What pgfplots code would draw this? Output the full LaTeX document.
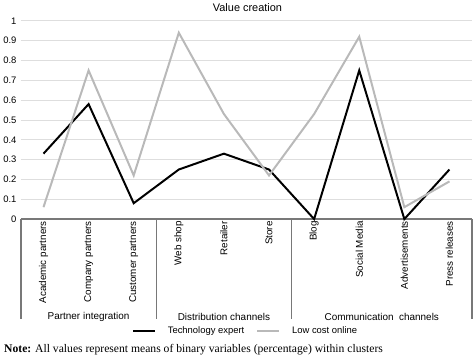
\documentclass[border=0pt]{standalone}
\usepackage{pgfplots}
\pgfplotsset{compat=1.18}
\usepackage{fontspec}
\setmainfont{Liberation Sans}
\newfontfamily\notefont{Liberation Serif}
\definecolor{lowcost}{RGB}{185,185,185}
\definecolor{gridc}{RGB}{222,222,222}
\definecolor{sepc}{RGB}{120,120,120}
\begin{document}
\begin{tikzpicture}[x=1pt,y=1pt]
\path (0,0) rectangle (474,363);
\begin{axis}[
  at={(18pt,142.5pt)}, anchor=south west,
  scale only axis, width=454pt, height=199.5pt,
  xmin=0, xmax=10, ymin=0, ymax=1,
  axis x line*=bottom, axis y line*=left,
  y axis line style={draw=none},
  x axis line style={draw=sepc, line width=1.2pt, -},
  xtick={0.5,1.5,...,9.5},
  xticklabels={Academic partners,Company partners,Customer partners,Web shop,Retailer,Store,Blog,Social Media,Advertisements,Press releases},
  xticklabel style={rotate=90, anchor=east, font=\fontsize{9.9}{11}\selectfont, inner sep=2pt},
  major tick length=0pt,
  ytick={0,0.1,...,1.01},
  ymajorgrids, grid style={draw=gridc, line width=0.8pt},
  yticklabel={\pgfmathprintnumber[fixed,precision=1]{\tick}},
  yticklabel style={font=\fontsize{9.5}{11}\selectfont, xshift=-1pt},
  /pgf/number format/assume math mode=true,
  clip=false,
  legend columns=2,
  legend style={at={(0.498,-0.564)}, anchor=center, draw=none, fill=none,
    font=\fontsize{9.5}{11}\selectfont, column sep=10pt},
  legend image code/.code={\draw[#1] (0pt,0pt) -- (22pt,0pt);},
]
\addplot[black, line width=2pt] coordinates {
(0.5,0.33) (1.5,0.58) (2.5,0.08) (3.5,0.25) (4.5,0.33) (5.5,0.25) (6.5,0) (7.5,0.75) (8.5,0) (9.5,0.25)};
\addlegendentry{Technology expert}
\addplot[lowcost, line width=2pt] coordinates {
(0.5,0.06) (1.5,0.75) (2.5,0.22) (3.5,0.94) (4.5,0.53) (5.5,0.22) (6.5,0.53) (7.5,0.92) (8.5,0.06) (9.5,0.19)};
\addlegendentry{Low cost online}
\pgfplotsinvokeforeach{0,3,6,10}{
  \draw[sepc, line width=1.2pt] (axis cs:#1,0) -- ++(0pt,-101pt);
}
\node[font=\fontsize{10}{12}\selectfont] at (axis cs:1.5,0) [yshift=-98.5pt] {Partner integration};
\node[font=\fontsize{10}{12}\selectfont] at (axis cs:4.5,0) [yshift=-98.5pt] {Distribution channels};
\node[font=\fontsize{10}{12}\selectfont] at (axis cs:8,0) [yshift=-98.5pt] {Communication\ \ channels};
\end{axis}
\node[font=\fontsize{11}{13}\selectfont] at (246,355) {Value creation};
\node[anchor=west, inner sep=0pt, font=\notefont\fontsize{11.7}{13}\selectfont] at (1,11) {\textbf{Note:} All values represent means of binary variables (percentage) within clusters};
\end{tikzpicture}
\end{document}
